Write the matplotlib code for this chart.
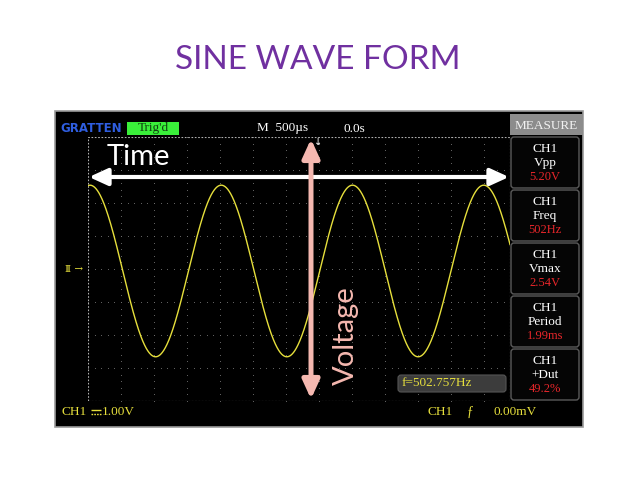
import numpy as np
import matplotlib
matplotlib.use("Agg")
import matplotlib.pyplot as plt
from matplotlib.patches import Rectangle, FancyBboxPatch, FancyArrowPatch

# ---------------- data ----------------
title = "SINE WAVE FORM"
freq_hz = 502.757          # f=502.757Hz readout
vpp = 5.20                 # CH1 Vpp
vmax = 2.54                # CH1 Vmax
t_first_peak_ms = 0.03     # first crest at left edge of screen
time_per_div_ms = 0.5      # M 500us
volts_per_div = 1.0        # CH1 1.00V
n_div_x = 12.79
n_div_y = 8
measure_names = ["Vpp", "Freq", "Vmax", "Period", "+Dut"]
measure_values = ["5.20V", "502Hz", "2.54V", "1.99ms", "49.2%"]
freq_label = "f=502.757Hz"

# ---------------- figure ----------------
W, H = 638, 478
fig = plt.figure(figsize=(W / 100, H / 100), dpi=100)
fig.patch.set_facecolor("white")

serif = "Liberation Serif"
sans = "Lato"
yellow = "#e6df3c"
red = "#e8262a"

# background overlay (pixel coords)
bg = fig.add_axes([0, 0, 1, 1], zorder=0)
bg.set_xlim(0, W); bg.set_ylim(H, 0); bg.axis("off")
bg.add_patch(Rectangle((55, 111), 528, 316, facecolor="black", edgecolor="#9a9a9a", lw=1.2))

bg.text(318, 60, title, color="#7030a0", fontsize=24, family=sans,
        ha="center", va="center")

# top bar
bg.text(60, 128.5, "GRATTEN", color="#2f5ee0", fontsize=8.5, family="DejaVu Sans",
        fontweight="bold", ha="left", va="center")
bg.add_patch(Rectangle((127, 122), 52, 13, facecolor="#3aef3a", edgecolor="none"))
bg.text(153, 128.5, "Trig'd", color="#104010", fontsize=9.5, family=serif, ha="center", va="center")
bg.text(257, 128.5, "M  500\u00b5s", color="white", fontsize=9.5, family=serif, ha="left", va="center")
bg.text(344, 128.5, "0.0s", color="white", fontsize=9.5, family=serif, ha="left", va="center")

# measure panel
bg.add_patch(Rectangle((510, 114), 73, 21, facecolor="#8c8c8c", edgecolor="none"))
bg.text(546, 126, "MEASURE", color="#f2f2f2", fontsize=9.5, family=serif, ha="center", va="center")
edges = [136, 189, 242, 295, 348, 401]
for i, (nm, val) in enumerate(zip(measure_names, measure_values)):
    top, bot = edges[i], edges[i + 1]
    bg.add_patch(FancyBboxPatch((511, top + 1), 68, bot - top - 2,
                                boxstyle="round,pad=0,rounding_size=3",
                                facecolor="#050505", edgecolor="#5a5a5a", lw=1))
    bg.text(545, top + 13, "CH1", color="white", fontsize=9.5, family=serif, ha="center", va="center")
    bg.text(545, top + 27, nm, color="white", fontsize=9.5, family=serif, ha="center", va="center")
    bg.text(545, top + 41, val, color=red, fontsize=9, family=serif, ha="center", va="center")

# bottom bar
bg.text(62, 412, "CH1", color=yellow, fontsize=9.5, family=serif, ha="left", va="center")
# DC coupling symbol (no installed font has U+2393): solid line over dashed line
bg.plot([91, 101], [410, 410], color=yellow, lw=1.0, solid_capstyle="butt")
bg.plot([91, 101], [413.5, 413.5], color=yellow, lw=1.0, linestyle=(0, (1.2, 0.8)))
bg.text(102, 412, "1.00V", color=yellow, fontsize=9.5, family=serif, ha="left", va="center")
bg.text(427, 412, "CH1", color=yellow, fontsize=9.5, family=serif, ha="left", va="center")
bg.text(470, 412, "\u0192", color=yellow, fontsize=10, family=serif, ha="center", va="center")
bg.text(494, 412, "0.00mV", color=yellow, fontsize=9.5, family=serif, ha="left", va="center")

# channel marker
bg.text(65, 270, "\u2161 \u2192", color=yellow, fontsize=7.5, family=["DejaVu Serif"], ha="left", va="center")

# ---------------- scope screen (data axes) ----------------
gx0, gx1, gy0, gy1 = 88, 510, 137, 401
ax = fig.add_axes([gx0 / W, 1 - gy1 / H, (gx1 - gx0) / W, (gy1 - gy0) / H], zorder=1)
ax.patch.set_alpha(0)
tmax = n_div_x * time_per_div_ms
vlim = n_div_y / 2 * volts_per_div
ax.set_xlim(0, tmax)
ax.set_ylim(-vlim, vlim)
for s in ax.spines.values():
    s.set_visible(False)
ax.set_xticks([]); ax.set_yticks([])

# dotted graticule
dots_x, dots_y = [], []
for k in range(1, int(n_div_x) + 1):
    tv = k * time_per_div_ms
    ys = np.arange(-vlim, vlim + 1e-9, volts_per_div / 5)
    dots_x += [tv] * len(ys); dots_y += list(ys)
for k in range(-3, 4):
    xs = np.arange(0, tmax, time_per_div_ms / 5)
    dots_x += list(xs); dots_y += [k * volts_per_div] * len(xs)
ax.scatter(dots_x, dots_y, s=0.6, color="#707070", linewidths=0)
ax.add_patch(Rectangle((0, -vlim), tmax, 2 * vlim, fill=False, edgecolor="#b0b0b0",
                       lw=0.8, linestyle=(0, (1.5, 1.5))))

# waveform
amp = vpp / 2
offset = vmax - amp
t = np.linspace(0, tmax, 3000)
v = offset + amp * np.cos(2 * np.pi * freq_hz * (t - t_first_peak_ms) / 1000.0)
ax.plot(t, v, color=yellow, lw=1.0)

# ---------------- top overlay ----------------
fg = fig.add_axes([0, 0, 1, 1], zorder=2)
fg.set_xlim(0, W); fg.set_ylim(H, 0); fg.axis("off")
fg.patch.set_alpha(0)

fg.text(318, 142, "\u2193", color="white", fontsize=7, ha="center", va="center")

fg.add_patch(FancyBboxPatch((398, 375), 108, 17, boxstyle="round,pad=0,rounding_size=3",
                            facecolor="#3c3c3c", edgecolor="#555555", lw=0.8))
fg.text(402, 383.5, freq_label, color=yellow, fontsize=9.5, family=serif, ha="left", va="center")

fg.add_patch(FancyArrowPatch((89, 177), (509, 177), arrowstyle="<|-|>,head_length=7,head_width=3.2",
                             color="white", lw=3.0, mutation_scale=1.6, shrinkA=0, shrinkB=0))
fg.text(107, 157, "Time", color="white", fontsize=21, family=sans, ha="left", va="center")

pink = "#f5b8b0"
fg.add_patch(FancyArrowPatch((311, 139), (311, 399), arrowstyle="<|-|>,head_length=7,head_width=3.2",
                             color=pink, lw=3.6, mutation_scale=1.6, shrinkA=0, shrinkB=0))
fg.text(346, 336, "Voltage", color=pink, fontsize=21, family=sans, rotation=90,
        ha="center", va="center")

fig.savefig("out.png", dpi=100, facecolor="white")
